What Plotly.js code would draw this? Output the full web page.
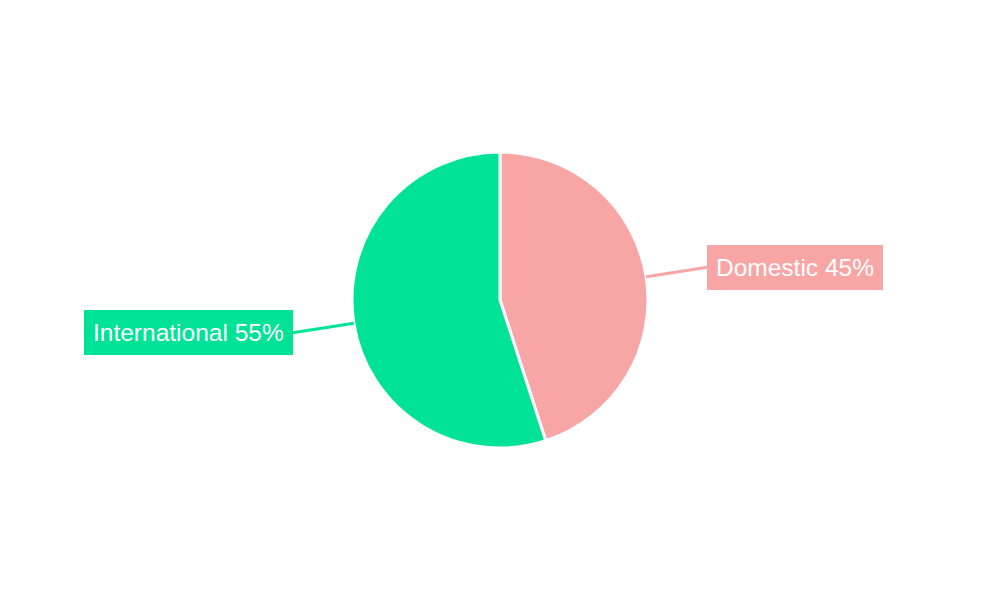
<!DOCTYPE html>
<html>
<head>
<meta charset="utf-8">
<script src="https://cdn.plot.ly/plotly-3.0.1.min.js"></script>
<style>
  html, body { margin: 0; padding: 0; background: #fff; }
  #chart { width: 1000px; height: 600px; }
</style>
</head>
<body>
<div id="chart"></div>
<script>
// Chart data
const labels = ['Domestic', 'International'];
const values = [45, 55];
const colors = ['#F8A5A5', '#00E396'];

const W = 1000, H = 600;
const radius = 148;        // pie radius in px
const leader = 62;         // leader line length past the pie edge
const plotH = radius * 2;
const marginTB = (H - plotH) / 2;

const total = values.reduce((a, b) => a + b, 0);

// Label boxes with leader lines, placed at each slice's middle angle
const annotations = [];
let start = 0;
values.forEach((v, i) => {
    const mid = (start + v / 2) / total * 2 * Math.PI;   // clockwise from 12 o'clock
    start += v;
    const sx = Math.sin(mid), sy = Math.cos(mid);
    const pct = Math.round(v / total * 100);
    annotations.push({
        xref: 'paper', yref: 'paper',
        x: 0.5 + radius * sx / W,
        y: 0.5 + radius * sy / plotH,
        ax: leader * sx,
        ay: -leader * sy,
        text: `${labels[i]} ${pct}%`,
        showarrow: true,
        arrowhead: 0,
        arrowwidth: 3,
        arrowcolor: colors[i],
        standoff: 0,
        xanchor: sx >= 0 ? 'left' : 'right',
        yanchor: 'middle',
        bgcolor: colors[i],
        bordercolor: colors[i],
        borderwidth: 1,
        borderpad: 8,
        font: { family: 'Liberation Sans, Arial, sans-serif', size: 24.5, color: '#ffffff' }
    });
});

const traces = [{
    type: 'pie',
    labels: labels,
    values: values,
    sort: false,
    direction: 'clockwise',
    rotation: 0,
    textinfo: 'none',
    hoverinfo: 'skip',
    marker: { colors: colors, line: { color: '#ffffff', width: 3 } },
    showlegend: false
}];

const layout = {
    width: W,
    height: H,
    paper_bgcolor: '#ffffff',
    margin: { l: 0, r: 0, t: marginTB, b: marginTB, pad: 0 },
    showlegend: false,
    annotations: annotations
};

Plotly.newPlot('chart', traces, layout, { displayModeBar: false, staticPlot: true });
</script>
</body>
</html>
